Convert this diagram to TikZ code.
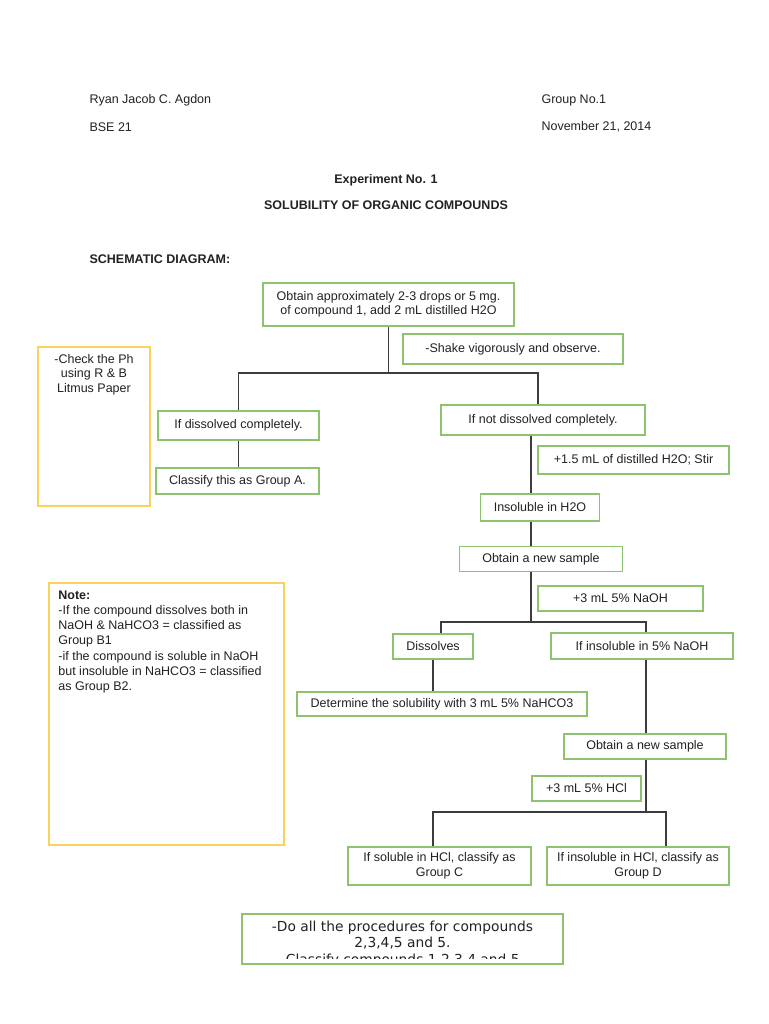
\documentclass[tikz,border=0pt]{standalone}
\usepackage{fontspec}
\setmainfont{Liberation Sans}
\newfontfamily\boxfont{DejaVu Sans}
\definecolor{gsGreen}{HTML}{8DC26F}
\definecolor{gsGold}{HTML}{FAD35E}
\definecolor{gsInk}{HTML}{222222}
\definecolor{gsLine}{HTML}{3C3C3C}

\begin{document}
\begin{tikzpicture}[x=1pt,y=-1pt,
	every node/.style={font=\fontsize{12.5}{14.5}\selectfont,text=gsInk},
	gbox/.style={draw=gsGreen,line width=1.8pt,inner sep=0pt,align=center},
	ybox/.style={draw=gsGold,line width=1.6pt,inner sep=0pt},
	link/.style={draw=gsLine,line width=1.3pt}]
		\fill[white] (0,0) rectangle (768,1024);
		\useasboundingbox (0,0) rectangle (768,1024);
		% header
		\node[anchor=west] (name) at (86,100) {Ryan Jacob C. Agdon};
		\node[anchor=west] (sect) at (86,127) {BSE 21};
		\node[anchor=west] (grp)  at (538,100) {Group No.1};
		\node[anchor=west] (date) at (538,127) {November 21, 2014};
		\node[font=\fontsize{12.5}{14.5}\selectfont\bfseries] (expt)  at (386,180.5) {Experiment No. 1};
		\node[font=\fontsize{12.5}{14.5}\selectfont\bfseries] (title) at (386,205.5) {SOLUBILITY OF ORGANIC COMPOUNDS};
		\node[anchor=west,font=\fontsize{12.5}{14.5}\selectfont\bfseries] (sch) at (86,259.5) {SCHEMATIC DIAGRAM:};
		% side notes
		\node[ybox,minimum width=112,minimum height=159] (ph) at (94,426.5) {};
		\node[anchor=north,align=center,inner sep=0pt] (phtxt) at ([yshift=-8pt]ph.north)
			{-Check the Ph\\using R \& B\\Litmus Paper};
		\node[ybox,minimum width=235,minimum height=262] (note) at (166.5,714) {};
		\node[anchor=north west,align=left,inner sep=0pt,
			font=\fontsize{12.5}{15.3}\selectfont] (notetxt) at ([xshift=10pt,yshift=-8pt]note.north west)
			{\textbf{Note:}\\-If the compound dissolves both in\\NaOH \& NaHCO3 = classified as\\Group B1\\
			-if the compound is soluble in NaOH\\but insoluble in NaHCO3 = classified\\as Group B2.};
		% flow boxes
		\node[gbox,minimum width=251,minimum height=43] (start) at (388.5,304.5)
			{Obtain approximately 2-3 drops or 5 mg.\\of compound 1, add 2 mL distilled H2O};
		\node[gbox,minimum width=220,minimum height=30] (shake) at (513,349) {-Shake vigorously and observe.};
		\node[gbox,minimum width=161,minimum height=29] (dis)   at (238.5,425.5) {If dissolved completely.};
		\node[gbox,minimum width=163,minimum height=26] (grpA)  at (237.5,481) {Classify this as Group A.};
		\node[gbox,minimum width=204,minimum height=30] (ndis)  at (543,420) {If not dissolved completely.};
		\node[gbox,minimum width=191,minimum height=28] (stir)  at (633.5,460) {+1.5 mL of distilled H2O; Stir};
		\node[gbox,minimum width=119,minimum height=27] (insw)  at (540,507.5) {Insoluble in H2O};
		\node[gbox,minimum width=163,minimum height=25] (newA)  at (541,559) {Obtain a new sample};
		\node[gbox,minimum width=165,minimum height=25] (naoh)  at (620.5,598.5) {+3 mL 5\% NaOH};
		\node[gbox,minimum width=80,minimum height=25]  (diss)  at (433,646.5) {Dissolves};
		\node[gbox,minimum width=182,minimum height=26] (insb)  at (642,646) {If insoluble in 5\% NaOH};
		\node[gbox,minimum width=290,minimum height=24] (bicarb) at (442,704) {Determine the solubility with 3 mL 5\% NaHCO3};
		\node[gbox,minimum width=162,minimum height=25] (newB)  at (645,746.5) {Obtain a new sample};
		\node[gbox,minimum width=109,minimum height=25] (hcl)   at (586.5,788.5) {+3 mL 5\% HCl};
		\node[gbox,minimum width=183,minimum height=38] (grpC)  at (439.5,866) {If soluble in HCl, classify as\\Group C};
		\node[gbox,minimum width=182,minimum height=38] (grpD)  at (638,866) {If insoluble in HCl, classify as\\Group D};
		\node[gbox,minimum width=321,minimum height=50] (final) at (402.5,939) {};
		\begin{scope}
			\clip (final.north west) rectangle ([yshift=6pt]final.south east);
			\node[anchor=north,align=center,inner sep=0pt,font=\boxfont\fontsize{13.8}{16.2}\selectfont]
				(finaltxt) at ([yshift=-8pt]final.north)
				{-Do all the procedures for compounds\\2,3,4,5 and 5.\\-Classify compounds 1,2,3,4 and 5.};
		\end{scope}
		% spines
		\coordinate (spA) at (531,0);
		\coordinate (spB) at (441,0);
		\coordinate (spD) at (646,0);
		\coordinate (spE) at (666,0);
		\coordinate (jA) at (start.south |- 0,373);
		\coordinate (jB) at (spA |- 0,622);
		\coordinate (jC) at (spD |- 0,812);
		% connectors
		\draw[link] (start.south) -- (jA);
		\draw[link] (dis.north) |- (jA) -| ([xshift=-5pt]ndis.north);
		\draw[link] (dis.south) -- (dis.south |- grpA.north);
		\draw[link] (ndis.south -| spA) -- (insw.north -| spA);
		\draw[link] (insw.south -| spA) -- (newA.north -| spA);
		\draw[link] (newA.south -| spA) -- (jB);
		\draw[link] (diss.north -| spB) |- (jB) -| (insb.north -| spD);
		\draw[link] (diss.south) -- (diss.south |- bicarb.north);
		\draw[link] (insb.south -| spD) -- (newB.north -| spD);
		\draw[link] (newB.south -| spD) -- (jC);
		\draw[link] (grpC.north -| diss.south) |- (jC) -| (grpD.north -| spE);
	\end{tikzpicture}
\end{document}
